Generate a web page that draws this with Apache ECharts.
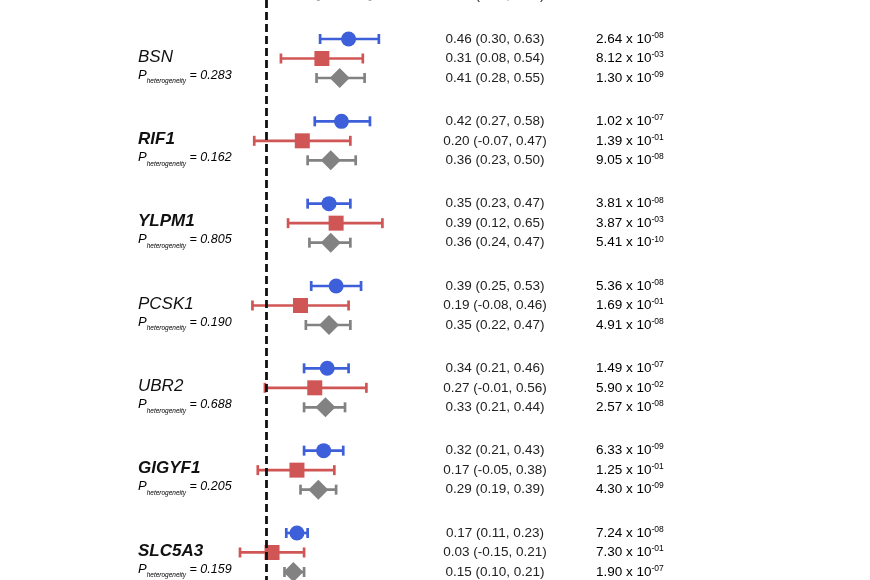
<!DOCTYPE html>
<html>
<head>
<meta charset="utf-8">
<title>Forest plot</title>
<script src="https://cdn.jsdelivr.net/npm/echarts@6/dist/echarts.min.js"></script>
<style>
html, body { margin: 0; padding: 0; background: #fff; }
#main { width: 870px; height: 580px; }
</style>
</head>
<body>
<div id="main"></div>
<script>
// genes, top to bottom
var genes = ['BSN', 'RIF1', 'YLPM1', 'PCSK1', 'UBR2', 'GIGYF1', 'SLC5A3'];
var geneBold = [false, true, true, false, false, true, true];
var pHet = ['0.283', '0.162', '0.805', '0.190', '0.688', '0.205', '0.159'];

// blue circles
var blueEst = [0.46, 0.42, 0.35, 0.39, 0.34, 0.32, 0.17];
var blueLo  = [0.30, 0.27, 0.23, 0.25, 0.21, 0.21, 0.11];
var blueHi  = [0.63, 0.58, 0.47, 0.53, 0.46, 0.43, 0.23];
var blueP   = [['2.64', '-08'], ['1.02', '-07'], ['3.81', '-08'], ['5.36', '-08'], ['1.49', '-07'], ['6.33', '-09'], ['7.24', '-08']];

// red squares
var redEst = [0.31, 0.20, 0.39, 0.19, 0.27, 0.17, 0.03];
var redLo  = [0.08, -0.07, 0.12, -0.08, -0.01, -0.05, -0.15];
var redHi  = [0.54, 0.47, 0.65, 0.46, 0.56, 0.38, 0.21];
var redP   = [['8.12', '-03'], ['1.39', '-01'], ['3.87', '-03'], ['1.69', '-01'], ['5.90', '-02'], ['1.25', '-01'], ['7.30', '-01']];

// grey diamonds
var greyEst = [0.41, 0.36, 0.36, 0.35, 0.33, 0.29, 0.15];
var greyLo  = [0.28, 0.23, 0.24, 0.22, 0.21, 0.19, 0.10];
var greyHi  = [0.55, 0.50, 0.47, 0.47, 0.44, 0.39, 0.21];
var greyP   = [['1.30', '-09'], ['9.05', '-08'], ['5.41', '-10'], ['4.91', '-08'], ['2.57', '-08'], ['4.30', '-09'], ['1.90', '-07']];

// the gene above BSN is cut off by the top edge: only its grey row shows
var cutGreyEst = [0.44];
var cutGreyLo  = [0.29];
var cutGreyHi  = [0.58];

var GROUP = 4.222; // rows per gene block (3 rows + gap)
var ZERO_PX = 266.7, UNIT_PX = 178;
var ROW0_PX = 39, ROW_PX = 19.5;

function rowY(g, k) { return g * GROUP + k; }
function fmt(v) { return v.toFixed(2); }
function ciText(e, l, h) { return fmt(e) + ' (' + fmt(l) + ', ' + fmt(h) + ')'; }

var BLUE = '#3d5fd9', RED = '#d05656', GREY = '#828282';

function points(est, k, offset) {
  return est.map(function (v, i) { return [v, rowY(i + offset, k)]; });
}
function bars(lo, hi, k, offset) {
  return lo.map(function (v, i) { return [v, hi[i], rowY(i + offset, k)]; });
}

// text rows: [x, y, ci text, p mantissa, p exponent]
var textRows = [];
[[blueEst, blueLo, blueHi, blueP, 0], [redEst, redLo, redHi, redP, 1], [greyEst, greyLo, greyHi, greyP, 2]]
  .forEach(function (s) {
    s[0].forEach(function (e, i) {
      textRows.push([0, rowY(i, s[4]), ciText(e, s[1][i], s[2][i]), s[3][i][0], s[3][i][1]]);
    });
  });
cutGreyEst.forEach(function (e, i) {
  textRows.push([0, rowY(-1, 2), ciText(e, cutGreyLo[i], cutGreyHi[i]), '', '']);
});

var labelRows = genes.map(function (g, i) { return [0, rowY(i, 0.92), g, geneBold[i], pHet[i], rowY(i, 1.85)]; });

function renderBar(params, api) {
  var a = api.coord([api.value(0), api.value(2)]);
  var b = api.coord([api.value(1), api.value(2)]);
  var c = 5;
  var st = { stroke: api.visual('color'), lineWidth: 2.7 };
  return {
    type: 'group',
    children: [
      { type: 'line', shape: { x1: a[0], y1: a[1], x2: b[0], y2: b[1] }, style: st },
      { type: 'line', shape: { x1: a[0], y1: a[1] - c, x2: a[0], y2: a[1] + c }, style: st },
      { type: 'line', shape: { x1: b[0], y1: b[1] - c, x2: b[0], y2: b[1] + c }, style: st }
    ]
  };
}

function renderText(params, api) {
  var r = textRows[params.dataIndex];
  var y = api.coord([0, r[1]])[1];
  var kids = [{
    type: 'text',
    style: { text: r[2], x: 495, y: y, align: 'center', verticalAlign: 'middle',
             font: '13.5px "Liberation Sans", Arial, sans-serif', fill: '#222' }
  }];
  if (r[3]) {
    kids.push({
      type: 'text',
      style: {
        text: '{m|' + r[3] + ' x 10}{s|' + r[4] + '}', x: 596, y: y, align: 'left', verticalAlign: 'middle',
        rich: {
          m: { fontSize: 13.5, fontFamily: '"Liberation Sans", Arial, sans-serif', color: '#222', lineHeight: 16 },
          s: { fontSize: 8.5, fontFamily: '"Liberation Sans", Arial, sans-serif', color: '#444', verticalAlign: 'top', lineHeight: 10 }
        }
      }
    });
  }
  return { type: 'group', children: kids };
}

function renderLabel(params, api) {
  var r = labelRows[params.dataIndex];
  var y1 = api.coord([0, r[1]])[1];
  var y2 = api.coord([0, r[5]])[1];
  return {
    type: 'group',
    children: [
      { type: 'text', style: { text: r[2], x: 138, y: y1, align: 'left', verticalAlign: 'middle',
          font: 'italic ' + (r[3] ? 'bold ' : '') + '17px "Liberation Sans", Arial, sans-serif', fill: '#111' } },
      { type: 'text', style: {
          text: '{p|P}{sub|heterogeneity}{v| = ' + r[4] + '}', x: 138, y: y2, align: 'left', verticalAlign: 'middle',
          rich: {
            p: { fontSize: 13, fontStyle: 'italic', fontFamily: '"Liberation Sans", Arial, sans-serif', color: '#333', lineHeight: 14 },
            sub: { fontSize: 6.5, fontStyle: 'italic', fontFamily: '"Liberation Sans", Arial, sans-serif', color: '#333', verticalAlign: 'bottom', lineHeight: 8, padding: [0, 0, -3, 0] },
            v: { fontSize: 12.5, fontStyle: 'italic', fontFamily: '"Liberation Sans", Arial, sans-serif', color: '#333', lineHeight: 14 }
          }
      } }
    ]
  };
}

var chart = echarts.init(document.getElementById('main'));
chart.setOption({
  animation: false,
  grid: { left: 0, right: 0, top: 0, bottom: 0 },
  xAxis: { type: 'value', min: -ZERO_PX / UNIT_PX, max: (870 - ZERO_PX) / UNIT_PX, show: false },
  yAxis: { type: 'value', inverse: true, min: -ROW0_PX / ROW_PX, max: (580 - ROW0_PX) / ROW_PX, show: false },
  series: [
    {
      type: 'custom', renderItem: renderBar, data: bars(blueLo, blueHi, 0, 0),
      itemStyle: { color: BLUE }, encode: { x: [0, 1], y: 2 }, z: 2,
      markLine: {
        silent: true, symbol: 'none', label: { show: false },
        lineStyle: { color: '#111', width: 2.8, type: [8, 4] },
        data: [{ xAxis: 0 }]
      }
    },
    { type: 'custom', renderItem: renderBar, data: bars(redLo, redHi, 1, 0), itemStyle: { color: RED }, encode: { x: [0, 1], y: 2 }, z: 2 },
    { type: 'custom', renderItem: renderBar, data: bars(greyLo, greyHi, 2, 0), itemStyle: { color: GREY }, encode: { x: [0, 1], y: 2 }, z: 2 },
    { type: 'custom', renderItem: renderBar, data: bars(cutGreyLo, cutGreyHi, 2, -1), itemStyle: { color: GREY }, encode: { x: [0, 1], y: 2 }, z: 2 },
    { type: 'scatter', data: points(blueEst, 0, 0), symbol: 'circle', symbolSize: 15, itemStyle: { color: BLUE, opacity: 1 }, z: 3 },
    { type: 'scatter', data: points(redEst, 1, 0), symbol: 'rect', symbolSize: 15, itemStyle: { color: RED, opacity: 1 }, z: 3 },
    { type: 'scatter', data: points(greyEst, 2, 0), symbol: 'diamond', symbolSize: 20, itemStyle: { color: GREY, opacity: 1 }, z: 3 },
    { type: 'scatter', data: points(cutGreyEst, 2, -1), symbol: 'diamond', symbolSize: 20, itemStyle: { color: GREY, opacity: 1 }, z: 3 },
    { type: 'custom', renderItem: renderText, data: textRows.map(function (r) { return [r[0], r[1]]; }), encode: { x: 0, y: 1 }, silent: true, z: 4 },
    { type: 'custom', renderItem: renderLabel, data: labelRows.map(function (r) { return [r[0], r[1]]; }), encode: { x: 0, y: 1 }, silent: true, z: 4 }
  ]
});
</script>
</body>
</html>
